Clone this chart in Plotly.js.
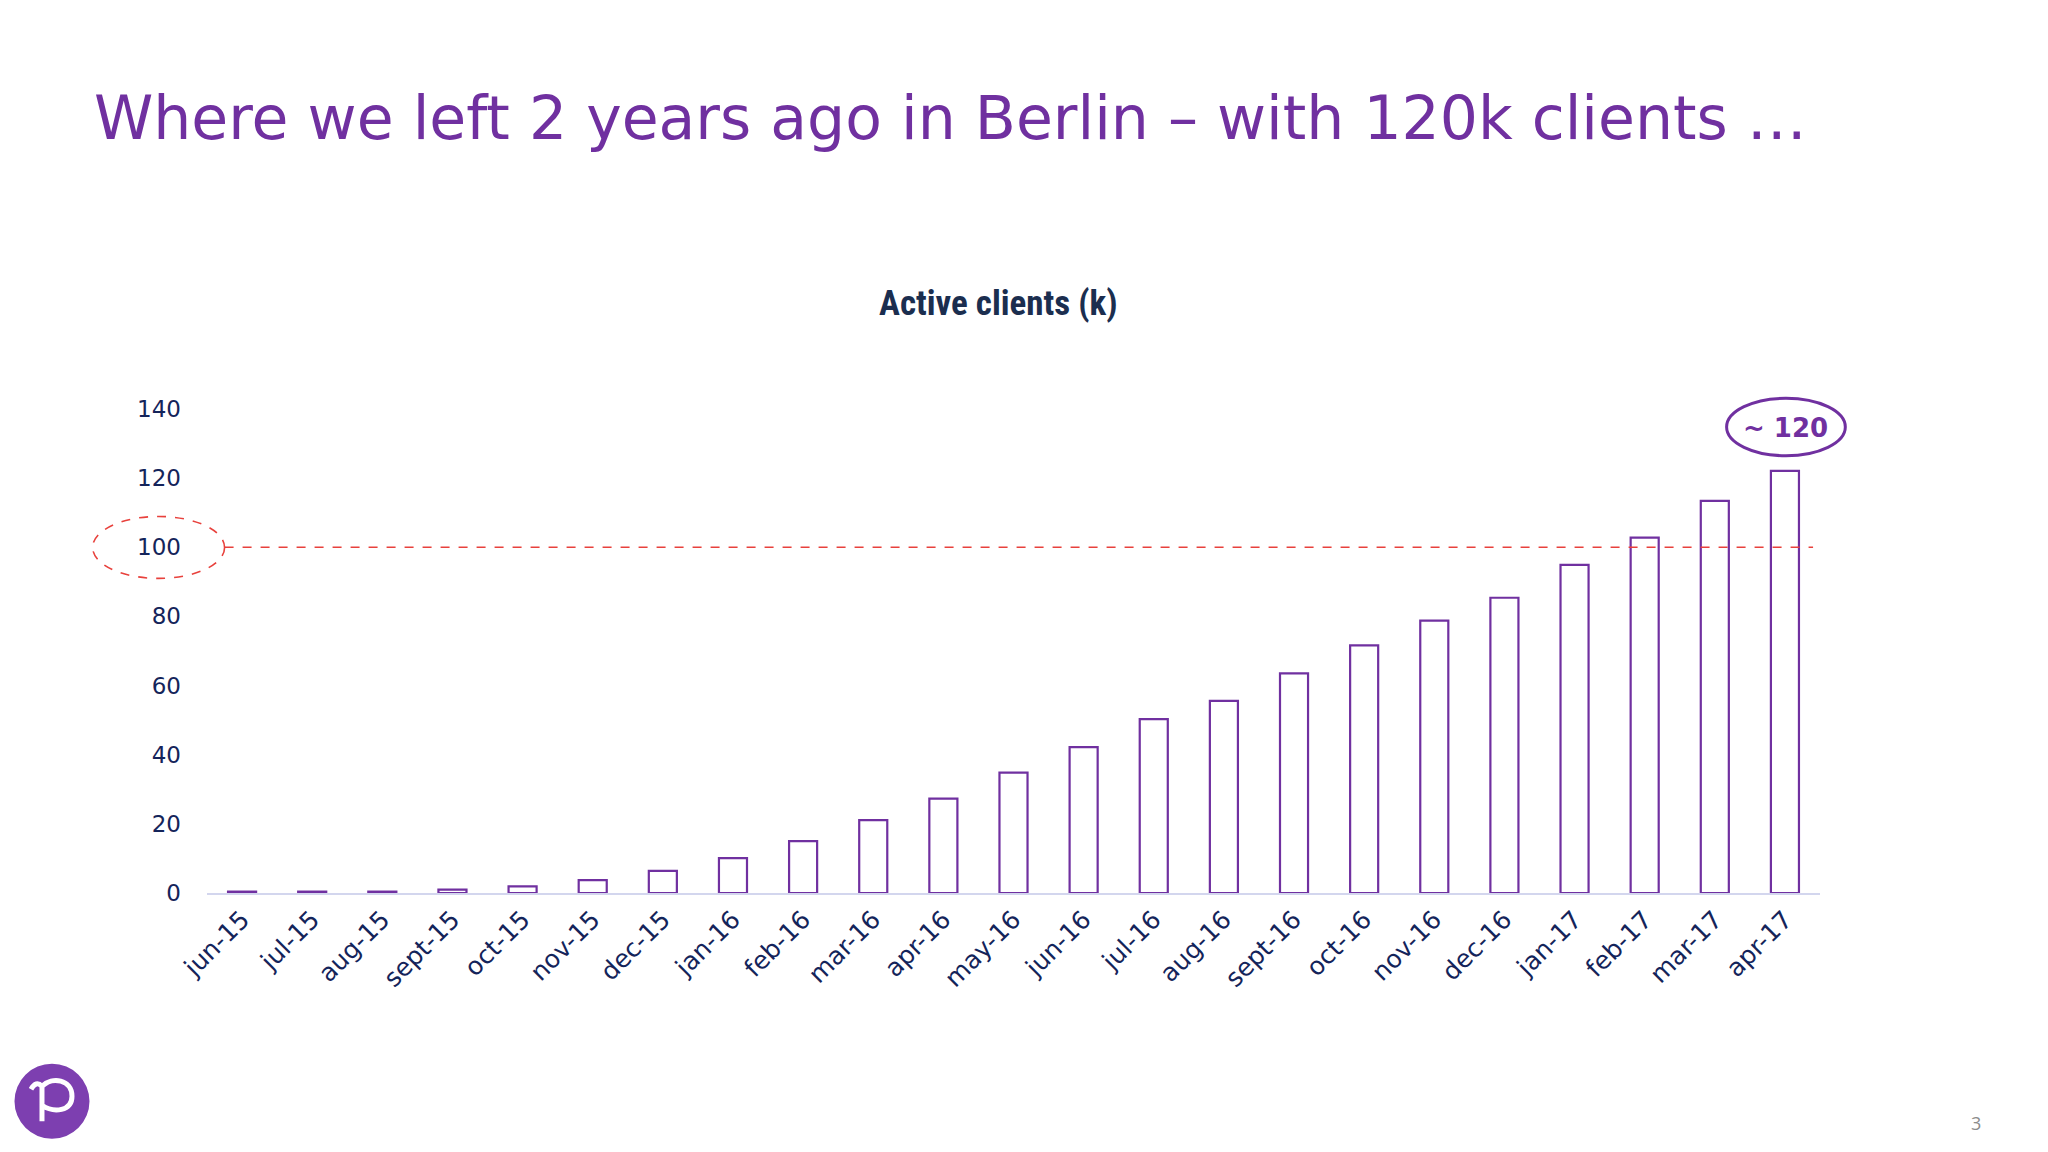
<!DOCTYPE html>
<html>
<head>
<meta charset="utf-8">
<script src="https://cdn.plot.ly/plotly-3.0.1.min.js"></script>
<style>html,body{margin:0;padding:0;background:#fff;}#chart{width:2048px;height:1152px;}</style>
</head>
<body>
<div id="chart"></div>
<script>
var months = ["jun-15","jul-15","aug-15","sept-15","oct-15","nov-15","dec-15","jan-16","feb-16","mar-16","apr-16","may-16","jun-16","jul-16","aug-16","sept-16","oct-16","nov-16","dec-16","jan-17","feb-17","mar-17","apr-17"];
var activeClients = [0.4,0.4,0.4,1.0,1.9,3.7,6.4,10.1,15.0,21.1,27.3,34.8,42.2,50.3,55.6,63.5,71.6,78.8,85.4,94.9,102.8,113.4,122.1];
var yTicks = [0,20,40,60,80,100,120,140];
var threshold = 100;
var calloutLabel = "~ 120";

var purple = "#7030a0";
var navy = "#14245a";

var trace = {
  type: "bar",
  x: months,
  y: activeClients,
  marker: {color: "#ffffff", line: {color: purple, width: 2.2}},
  hoverinfo: "x+y"
};

var layout = {
  width: 2048, height: 1152,
  paper_bgcolor: "#ffffff", plot_bgcolor: "#ffffff",
  margin: {l: 207, r: 228, t: 409, b: 258.5, pad: 0},
  showlegend: false,
  bargap: 0.6,
  title: {
    text: "Where we left 2 years ago in Berlin \u2013 with 120k clients \u2026",
    font: {family: "DejaVu Sans, Verdana, sans-serif", size: 60, color: purple},
    xref: "container", yref: "container",
    x: 94/2048, xanchor: "left",
    y: 1 - 118/1152, yanchor: "middle"
  },
  xaxis: {
    type: "category",
    showline: true, linecolor: "#d3d6ee", linewidth: 2,
    showgrid: false, zeroline: false,
    ticks: "", tickangle: -45,
    tickfont: {family: "DejaVu Sans, Verdana, sans-serif", size: 25, color: navy},
    fixedrange: true
  },
  yaxis: {
    range: [0, 140],
    tickvals: yTicks,
    showgrid: false, zeroline: false, showline: false,
    ticks: "", ticklabelstandoff: 25,
    tickfont: {family: "DejaVu Sans, Verdana, sans-serif", size: 23, color: navy},
    fixedrange: true
  },
  shapes: [
    {type: "line", xref: "paper", yref: "y", x0: 0.0109, x1: 0.9957, y0: threshold, y1: threshold,
     line: {color: "#e8413c", width: 1.6, dash: "dash"}},
    {type: "circle", xref: "paper", yref: "paper", x0: -0.0709, x1: 0.0109, y0: 0.650, y1: 0.778,
     line: {color: "#e8413c", width: 1.6, dash: "dash"}},
    {type: "circle", xref: "paper", yref: "paper", x0: 0.9421, x1: 1.0157, y0: 0.9034, y1: 1.0221,
     line: {color: purple, width: 3}},
    {type: "circle", xref: "paper", yref: "paper", xsizemode: "pixel", ysizemode: "pixel",
     xanchor: -0.0961, yanchor: -0.4303, x0: -37.5, x1: 37.5, y0: -37.5, y1: 37.5,
     fillcolor: "#7d3fb0", line: {width: 0}},
    {type: "path", xref: "paper", yref: "paper", xsizemode: "pixel", ysizemode: "pixel",
     xanchor: -0.0961, yanchor: -0.4303,
     path: "M -21,12 Q -16,21 -10,15 L -10,-20 M -10,15 C 0,25 20,22 20,5 C 20,-10 2,-12 -10,-4",
     line: {color: "#ffffff", width: 5}}
  ],
  annotations: [
    {text: "<b>Active clients (k)</b>", xref: "paper", yref: "paper", x: 0.491, y: 1.2188,
     xanchor: "center", yanchor: "middle", showarrow: false,
     font: {family: "Liberation Sans Narrow, Roboto Condensed, Arial Narrow, sans-serif", size: 35, color: "#1b2e4f"}},
    {text: "<b>" + calloutLabel + "</b>", xref: "paper", yref: "paper", x: 0.9789, y: 0.9608,
     xanchor: "center", yanchor: "middle", showarrow: false,
     font: {family: "DejaVu Sans, Verdana, sans-serif", size: 26, color: purple}},
    {text: "3", xref: "paper", yref: "paper", x: 1.0967, y: -0.4757, xanchor: "center", yanchor: "middle",
     showarrow: false, font: {family: "Open Sans, sans-serif", size: 18, color: "#8c8c8c"}}
  ]
};

Plotly.newPlot("chart", [trace], layout, {displayModeBar: false, staticPlot: true});
</script>
</body>
</html>
